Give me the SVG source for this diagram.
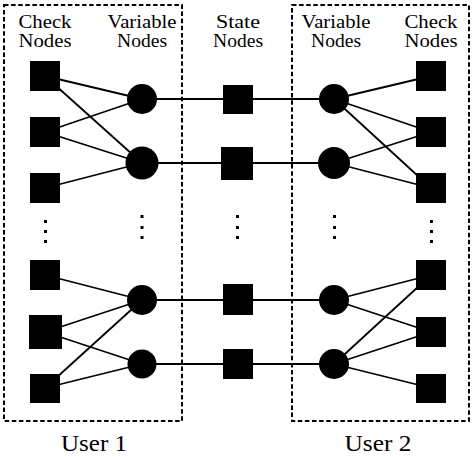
<svg xmlns="http://www.w3.org/2000/svg" width="474" height="457" viewBox="0 0 474 457">
<style>
.box{fill:none;stroke:#000;stroke-width:2;stroke-dasharray:4.5 2.6}
.e{stroke:#000;stroke-width:1.8;fill:none}
.n{fill:#000}
.d{fill:#000}
</style>
<rect width="474" height="457" fill="#fff"/>
<rect id="user1" class="box" x="4" y="5" width="178" height="416"/>
<rect id="user2" class="box" x="292" y="5" width="177" height="416"/>
<g id="labels" font-family="Liberation Serif, DejaVu Serif, serif" font-size="19.5" text-anchor="middle" fill="#000">
<text x="45" y="28" textLength="53" lengthAdjust="spacingAndGlyphs">Check</text>
<text x="45" y="47" textLength="53" lengthAdjust="spacingAndGlyphs">Nodes</text>
<text x="142" y="28" textLength="69" lengthAdjust="spacingAndGlyphs">Variable</text>
<text x="142" y="47" textLength="50" lengthAdjust="spacingAndGlyphs">Nodes</text>
<text x="238" y="28" textLength="44" lengthAdjust="spacingAndGlyphs">State</text>
<text x="238" y="47" textLength="50" lengthAdjust="spacingAndGlyphs">Nodes</text>
<text x="336" y="28" textLength="69" lengthAdjust="spacingAndGlyphs">Variable</text>
<text x="336" y="47" textLength="50" lengthAdjust="spacingAndGlyphs">Nodes</text>
<text x="431" y="28" textLength="53" lengthAdjust="spacingAndGlyphs">Check</text>
<text x="431" y="47" textLength="53" lengthAdjust="spacingAndGlyphs">Nodes</text>
<text x="94" y="451" font-size="24" textLength="66" lengthAdjust="spacingAndGlyphs">User 1</text>
<text x="378" y="451" font-size="24" textLength="67" lengthAdjust="spacingAndGlyphs">User 2</text>
</g>
<g id="connectors">
<line class="e" x1="45" y1="76" x2="142" y2="99"/>
<line class="e" x1="45" y1="76" x2="142" y2="163"/>
<line class="e" x1="45" y1="132" x2="142" y2="99"/>
<line class="e" x1="45" y1="132" x2="142" y2="163"/>
<line class="e" x1="45" y1="188" x2="142" y2="163"/>
<line class="e" x1="45" y1="275" x2="142" y2="300"/>
<line class="e" x1="45" y1="332" x2="142" y2="300"/>
<line class="e" x1="45" y1="332" x2="142" y2="364"/>
<line class="e" x1="45" y1="388" x2="142" y2="300"/>
<line class="e" x1="45" y1="388" x2="142" y2="364"/>
<line class="e" x1="142" y1="99" x2="334" y2="99"/>
<line class="e" x1="142" y1="163" x2="334" y2="163"/>
<line class="e" x1="142" y1="300" x2="334" y2="300"/>
<line class="e" x1="142" y1="364" x2="334" y2="364"/>
<line class="e" x1="334" y1="99" x2="431" y2="76"/>
<line class="e" x1="334" y1="99" x2="431" y2="132"/>
<line class="e" x1="334" y1="99" x2="431" y2="188"/>
<line class="e" x1="334" y1="163" x2="431" y2="132"/>
<line class="e" x1="334" y1="163" x2="431" y2="188"/>
<line class="e" x1="334" y1="300" x2="431" y2="275"/>
<line class="e" x1="334" y1="300" x2="431" y2="332"/>
<line class="e" x1="334" y1="364" x2="431" y2="275"/>
<line class="e" x1="334" y1="364" x2="431" y2="332"/>
<line class="e" x1="334" y1="364" x2="431" y2="388"/>
</g>
<g id="c1-1"><rect class="n" x="30" y="61" width="30" height="30"/></g>
<g id="c1-2"><rect class="n" x="30" y="117" width="30" height="30"/></g>
<g id="c1-3"><rect class="n" x="30" y="173" width="30" height="30"/></g>
<g id="c1-4"><rect class="n" x="30" y="260" width="30" height="30"/></g>
<g id="c1-5"><rect class="n" x="29" y="315" width="33" height="34"/></g>
<g id="c1-6"><rect class="n" x="30" y="374" width="30" height="29"/></g>
<g id="v1-1"><circle class="n" cx="142" cy="99" r="15"/></g>
<g id="v1-2"><circle class="n" cx="142" cy="163" r="16.5"/></g>
<g id="v1-3"><circle class="n" cx="142" cy="300" r="15"/></g>
<g id="v1-4"><circle class="n" cx="142" cy="364" r="14.5"/></g>
<g id="s-1"><rect class="n" x="223" y="85" width="30" height="29"/></g>
<g id="s-2"><rect class="n" x="221" y="147" width="32" height="33"/></g>
<g id="s-3"><rect class="n" x="223" y="284" width="30" height="31"/></g>
<g id="s-4"><rect class="n" x="223" y="349" width="30" height="30"/></g>
<g id="v2-1"><circle class="n" cx="334" cy="99" r="15"/></g>
<g id="v2-2"><circle class="n" cx="334" cy="163" r="16"/></g>
<g id="v2-3"><circle class="n" cx="334" cy="300" r="15"/></g>
<g id="v2-4"><circle class="n" cx="334" cy="364" r="15"/></g>
<g id="c2-1"><rect class="n" x="416" y="61" width="30" height="30"/></g>
<g id="c2-2"><rect class="n" x="416" y="117" width="30" height="30"/></g>
<g id="c2-3"><rect class="n" x="416" y="173" width="30" height="30"/></g>
<g id="c2-4"><rect class="n" x="416" y="260" width="30" height="30"/></g>
<g id="c2-5"><rect class="n" x="416" y="317" width="30" height="30"/></g>
<g id="c2-6"><rect class="n" x="416" y="374" width="30" height="29"/></g>
<g id="dots">
<rect class="d" x="44" y="220" width="3" height="3"/>
<rect class="d" x="44" y="230" width="3" height="3"/>
<rect class="d" x="44" y="240" width="3" height="3"/>
<rect class="d" x="140.5" y="215" width="3" height="3"/>
<rect class="d" x="140.5" y="226" width="3" height="3"/>
<rect class="d" x="140.5" y="236" width="3" height="3"/>
<rect class="d" x="236" y="215" width="3" height="3"/>
<rect class="d" x="236" y="226" width="3" height="3"/>
<rect class="d" x="236" y="236" width="3" height="3"/>
<rect class="d" x="333" y="215" width="3" height="3"/>
<rect class="d" x="333" y="226" width="3" height="3"/>
<rect class="d" x="333" y="236" width="3" height="3"/>
<rect class="d" x="430" y="220" width="3" height="3"/>
<rect class="d" x="430" y="230" width="3" height="3"/>
<rect class="d" x="430" y="240" width="3" height="3"/>
</g>
</svg>
